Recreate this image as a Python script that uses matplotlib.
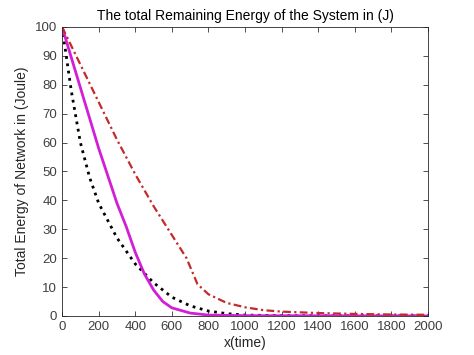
import matplotlib
matplotlib.use("Agg")
import matplotlib.pyplot as plt

plt.rcParams['font.family'] = ['Liberation Sans', 'DejaVu Sans']

# red dash-dot series
x_red = [0, 100, 200, 300, 400, 500, 600, 680, 740, 800, 900, 1000, 1100, 1200, 1400, 1600, 1800, 2000]
y_red = [100, 87, 74, 61, 49, 38, 28, 20, 11, 7.5, 4.5, 3, 2, 1.5, 1, 0.7, 0.5, 0.4]

# magenta solid series
x_mag = [0, 100, 200, 300, 350, 400, 450, 500, 550, 600, 700, 800, 1000, 2000]
y_mag = [100, 79, 58, 39, 31, 22, 14.5, 9, 5, 2.8, 1, 0.3, 0.1, 0]

# black dotted series
x_blk = [0, 50, 100, 150, 200, 250, 300, 400, 500, 600, 700, 800, 900, 1000, 1200, 2000]
y_blk = [100, 78, 60, 48, 39, 33, 27, 18, 11.5, 6.5, 3.5, 1.7, 0.8, 0.3, 0.1, 0]

fig = plt.figure(figsize=(4.74, 3.55), dpi=100)
ax = fig.add_axes([0.131, 0.11, 0.772, 0.814])

ax.plot(x_blk, y_blk, ':', color='black', lw=2)
ax.plot(x_mag, y_mag, '-', color='#d21fd6', lw=2)
ax.plot(x_red, y_red, '-.', color='#c42a2a', lw=1.6, dashes=(3.5, 1.5, 1, 1.5))

ax.set_xlim(0, 2000)
ax.set_ylim(0, 100)
ax.set_xticks(range(0, 2001, 200))
ax.set_yticks(range(0, 101, 10))
ax.tick_params(direction='in', top=True, right=True, labelsize=9.5,
               colors='#333333', labelcolor='#404040', length=3.5, width=0.6)
for s in ax.spines.values():
    s.set_color('#262626')
    s.set_linewidth(0.6)

ax.set_title('The total Remaining Energy of the System in (J)', fontsize=10, pad=5)
ax.set_xlabel('x(time)', fontsize=10, labelpad=2, color='#262626')
ax.set_ylabel('Total Energy of Network in (Joule)', fontsize=10, labelpad=4, color='#262626')

fig.savefig('out.png', dpi=100)
